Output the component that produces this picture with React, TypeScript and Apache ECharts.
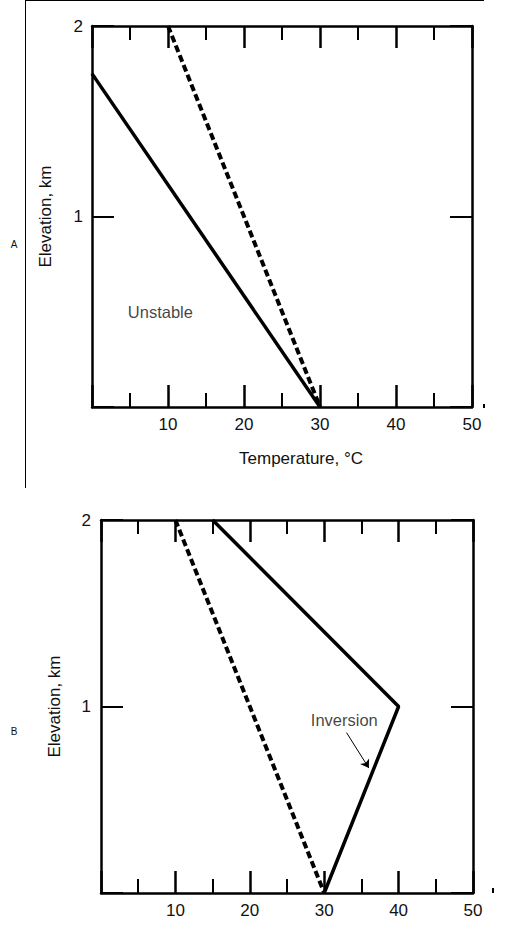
import { useEffect, useRef } from 'react';
import * as echarts from 'echarts';

/* ───── Data ───── */
const unstableEnv: number[][] = [[0, 1.75], [30, 0]];
const adiabatA: number[][] = [[10, 2], [30, 0]];
const adiabatB: number[][] = [[10, 2], [30, 0]];
const inversionEnv: number[][] = [[15, 2], [40, 1], [30, 0]];
const unstableLabelAt: number[][] = [[9, 0.5]];
const inversionLabelAt: number[][] = [[32.7, 0.93]];
const inversionArrow: number[][] = [[33.0, 0.86], [36.0, 0.67]];
const tempRange = [0, 50];
const elevRange = [0, 2];

const FONT = '"Liberation Sans", Arial, sans-serif';
const INK = '#111';

/* ───── Axis builders ───── */
function xAx(grid: number, pos: 'top' | 'bottom', labels: boolean, name = '') {
  return {
    type: 'value', gridIndex: grid, position: pos, min: tempRange[0], max: tempRange[1], interval: 10,
    axisLine: { show: true, onZero: false, lineStyle: { color: '#000', width: 2.5 } },
    axisTick: { show: true, inside: true, length: 22, lineStyle: { color: '#000', width: 2.5 } },
    minorTick: { show: true, splitNumber: 2, length: 14, lineStyle: { color: '#000', width: 2 } },
    splitLine: { show: false }, minorSplitLine: { show: false },
    axisLabel: { show: labels, margin: 9, fontSize: 17, color: INK, fontFamily: FONT, formatter: (v: number) => (v === 0 ? '' : String(v)) },
    name, nameLocation: 'middle', nameGap: 43,
    nameTextStyle: { fontSize: 17, color: INK, fontFamily: FONT, padding: [0, 0, 0, 38] },
  };
}

function yAx(grid: number, pos: 'left' | 'right', labels: boolean, margin: number) {
  return {
    type: 'value', gridIndex: grid, position: pos, min: elevRange[0], max: elevRange[1], interval: 1,
    axisLine: { show: true, onZero: false, lineStyle: { color: '#000', width: 2.5 } },
    axisTick: { show: true, inside: true, length: 22, lineStyle: { color: '#000', width: 2 } },
    splitLine: { show: false },
    axisLabel: { show: labels, margin, fontSize: 17, color: INK, fontFamily: FONT, formatter: (v: number) => (v === 0 ? '' : String(v)) },
    name: labels ? 'Elevation, km' : '', nameLocation: 'middle', nameGap: 38,
    nameTextStyle: { fontSize: 17, color: INK, fontFamily: FONT },
  };
}

function lineSeries(xi: number, data: number[][], dashed: boolean) {
  return {
    type: 'line', xAxisIndex: xi, yAxisIndex: xi, data, symbol: 'none', silent: true,
    lineStyle: { color: '#000', width: dashed ? 4 : 3.5, type: dashed ? [7, 3.5] : 'solid', cap: 'butt' },
  };
}

function textSeries(xi: number, data: number[][], text: string) {
  return {
    type: 'scatter', xAxisIndex: xi, yAxisIndex: xi, data, symbolSize: 1, silent: true,
    itemStyle: { color: 'transparent' },
    label: { show: true, position: 'inside', formatter: text, fontSize: 16.5, color: INK, fontFamily: FONT },
  };
}

export default function App() {
  const ref = useRef<HTMLDivElement>(null);

  useEffect(() => {
    if (!ref.current) return;
    const chart = echarts.init(ref.current, undefined, { renderer: 'svg' });
    chart.setOption({
      animation: false,
      backgroundColor: '#fff',
      grid: [
        { left: 92, top: 26, width: 380, height: 381 },
        { left: 101, top: 520, width: 372, height: 373 },
      ],
      xAxis: [
        xAx(0, 'bottom', true, 'Temperature, °C'),
        xAx(0, 'top', false),
        xAx(1, 'bottom', true),
        xAx(1, 'top', false),
      ],
      yAxis: [
        yAx(0, 'left', true, 9),
        yAx(0, 'right', false, 9),
        yAx(1, 'left', true, 10),
        yAx(1, 'right', false, 10),
      ],
      series: [
        lineSeries(0, unstableEnv, false),
        lineSeries(0, adiabatA, true),
        textSeries(0, unstableLabelAt, 'Unstable'),
        lineSeries(2, adiabatB, true),
        {
          ...lineSeries(2, inversionEnv, false),
          markLine: {
            silent: true, symbol: ['none', 'arrow'], symbolSize: 8,
            lineStyle: { color: '#000', width: 1, type: 'solid' },
            label: { show: false },
            data: [[{ coord: inversionArrow[0] }, { coord: inversionArrow[1] }]],
          },
        },
        textSeries(2, inversionLabelAt, 'Inversion'),
      ],
      graphic: [
        { type: 'line', shape: { x1: 25, y1: 0.5, x2: 484, y2: 0.5 }, style: { stroke: '#000', lineWidth: 1 } },
        { type: 'line', shape: { x1: 25.5, y1: 0, x2: 25.5, y2: 488 }, style: { stroke: '#000', lineWidth: 1 } },
        { type: 'line', shape: { x1: 484, y1: 404, x2: 484, y2: 408 }, style: { stroke: '#000', lineWidth: 2 } },
        { type: 'line', shape: { x1: 493, y1: 888, x2: 493, y2: 893 }, style: { stroke: '#000', lineWidth: 2 } },
        { type: 'text', x: 14, y: 244, style: { text: 'A', fontSize: 10, fill: INK, fontFamily: FONT, align: 'center', verticalAlign: 'middle' } },
        { type: 'text', x: 14, y: 731, style: { text: 'B', fontSize: 10, fill: INK, fontFamily: FONT, align: 'center', verticalAlign: 'middle' } },
      ],
    });
    return () => { chart.dispose(); };
  }, []);

  return <div ref={ref} style={{ position: 'fixed', left: 0, top: 0, width: 512, height: 934, background: '#fff' }} />;
}
